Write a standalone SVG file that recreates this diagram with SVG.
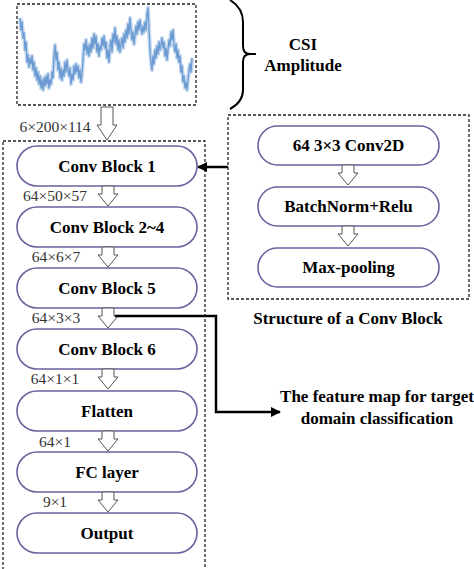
<svg xmlns="http://www.w3.org/2000/svg" width="474" height="569" viewBox="0 0 474 569">
<defs>
<style>
.dash{fill:none;stroke:#222;stroke-width:1.3;stroke-dasharray:3,2}
.pill{fill:#fff;stroke:#6e5f9e;stroke-width:1.6}
.t{font-family:"Liberation Serif","Times New Roman",serif;font-weight:bold;font-size:17px;fill:#000;text-anchor:middle}
.lb{font-family:"Liberation Serif","Times New Roman",serif;font-size:15.5px;fill:#333;text-anchor:middle}
.harrow{fill:#fff;stroke:#555;stroke-width:1}
.conn{fill:none;stroke:#000;stroke-width:2.5}
.sig{fill:none;stroke-linejoin:round}
</style>
<marker id="ah" markerWidth="10" markerHeight="10" refX="9" refY="5" orient="auto" markerUnits="userSpaceOnUse" viewBox="0 0 10 10">
<path d="M0,0 L10,5 L0,10 z" fill="#000"/>
</marker>
<path id="ha" d="M-6,0 L6,0 L6,8 L10,8 L0,20 L-10,8 L-6,8 z"/>
<polyline id="trace" points="20,18 21,30 22,22 23,38 24,33 25,50 26,42 27,62 28,55 29,67 30,58 31,64 32,56 33,70 34,62 35,76 36,68 37,80 38,72 39,84 40,76 41,88 42,80 43,90 44,78 45,86 46,76 47,84 48,74 49,88 50,80 51,84 52,72 53,78 54,55 55,45 56,60 57,52 58,70 59,62 60,78 61,68 62,80 63,70 64,76 65,62 66,72 67,60 68,70 69,76 70,68 71,84 72,74 73,80 74,66 75,74 76,64 77,72 78,66 79,78 80,70 81,82 82,74 83,60 84,44 85,50 86,40 87,54 88,46 89,56 90,44 91,52 92,38 93,48 94,34 95,44 96,36 97,52 98,44 99,56 100,46 101,50 102,38 103,46 104,36 105,48 106,42 107,58 108,50 109,62 110,46 111,40 112,52 113,34 114,42 115,28 116,44 117,36 118,50 119,40 120,52 121,44 122,38 123,48 124,34 125,42 126,30 127,38 128,24 129,34 130,18 131,30 132,40 133,32 134,44 135,36 136,26 137,34 138,22 139,30 140,20 141,28 142,34 143,26 144,32 145,22 146,30 147,14 148,8 149,30 150,50 151,62 152,70 153,56 154,64 155,50 156,58 157,46 158,54 159,42 160,50 161,44 162,38 163,48 164,42 165,56 166,48 167,60 168,50 169,40 170,46 171,32 172,40 173,30 174,46 175,52 176,44 177,58 178,50 179,62 180,56 181,72 182,66 183,82 184,76 185,88 186,82 187,90 188,80 189,70 190,64 191,72 192,58"/>
</defs>
<rect width="474" height="569" fill="#fff"/>

<g id="signal">
<rect class="dash" x="17" y="4" width="179" height="101"/>
<use href="#trace" class="sig" stroke="#c3d7ee" stroke-width="4"/>
<use href="#trace" class="sig" stroke="#6b9bd2" stroke-width="1.3"/>
</g>

<g id="brace">
<path d="M230,0 Q243,8 243,22 L243,46 Q243,54 250,54 L256,54 M250,54 Q243,54 243,62 L243,90 Q243,102 230,109" fill="none" stroke="#000" stroke-width="2"/>
<text class="t" x="303" y="50">CSI</text>
<text class="t" x="303" y="71">Amplitude</text>
</g>

<g id="main-box">
<rect class="dash" x="3" y="141" width="202" height="440"/>
</g>

<g id="block-structure">
<rect class="dash" x="228" y="115" width="241" height="184"/>
<g id="conv2d"><rect class="pill" x="258" y="126" width="181" height="39" rx="19.5"/><text class="t" x="348.5" y="151">64 3×3 Conv2D</text></g>
<g id="bnrelu"><rect class="pill" x="258" y="187" width="181" height="39" rx="19.5"/><text class="t" x="348.5" y="212">BatchNorm+Relu</text></g>
<g id="maxpool"><rect class="pill" x="258" y="248" width="181" height="39" rx="19.5"/><text class="t" x="348.5" y="273">Max-pooling</text></g>
<text class="t" x="348" y="324">Structure of a Conv Block</text>
</g>

<g id="cb1"><rect class="pill" x="17" y="146" width="180" height="40" rx="20"/><text class="t" x="107" y="172">Conv Block 1</text></g>
<g id="cb24"><rect class="pill" x="17" y="207" width="180" height="40" rx="20"/><text class="t" x="107" y="233">Conv Block 2~4</text></g>
<g id="cb5"><rect class="pill" x="17" y="268" width="180" height="40" rx="20"/><text class="t" x="107" y="294">Conv Block 5</text></g>
<g id="cb6"><rect class="pill" x="17" y="329" width="180" height="40" rx="20"/><text class="t" x="107" y="355">Conv Block 6</text></g>
<g id="flatten"><rect class="pill" x="17" y="391" width="180" height="40" rx="20"/><text class="t" x="107" y="417">Flatten</text></g>
<g id="fc"><rect class="pill" x="17" y="452" width="180" height="40" rx="20"/><text class="t" x="107" y="478">FC layer</text></g>
<g id="output"><rect class="pill" x="17" y="513" width="180" height="40" rx="20"/><text class="t" x="107" y="539">Output</text></g>

<g id="connectors">
<path class="harrow" d="M101,107 L113,107 L113,125 L117,125 L107,140 L97,125 L101,125 z"/>
<use href="#ha" class="harrow" x="108" y="186"/>
<use href="#ha" class="harrow" x="108" y="247"/>
<use href="#ha" class="harrow" x="108" y="308"/>
<use href="#ha" class="harrow" x="108" y="369"/>
<use href="#ha" class="harrow" x="108" y="431"/>
<use href="#ha" class="harrow" x="108" y="492"/>
<use href="#ha" class="harrow" x="348" y="165"/>
<use href="#ha" class="harrow" x="348" y="226"/>
<line class="conn" x1="228" y1="167" x2="198" y2="167" marker-end="url(#ah)"/>
<polyline class="conn" points="115,316 216,316 216,412 280,412" marker-end="url(#ah)"/>
</g>

<g id="labels">
<text class="lb" x="55" y="132">6×200×114</text>
<text class="lb" x="55" y="201">64×50×57</text>
<text class="lb" x="56" y="262">64×6×7</text>
<text class="lb" x="56" y="323">64×3×3</text>
<text class="lb" x="55" y="384">64×1×1</text>
<text class="lb" x="55" y="447">64×1</text>
<text class="lb" x="55" y="507">9×1</text>
<text class="t" x="377" y="402">The feature map for target</text>
<text class="t" x="377" y="424">domain classification</text>
</g>
</svg>
